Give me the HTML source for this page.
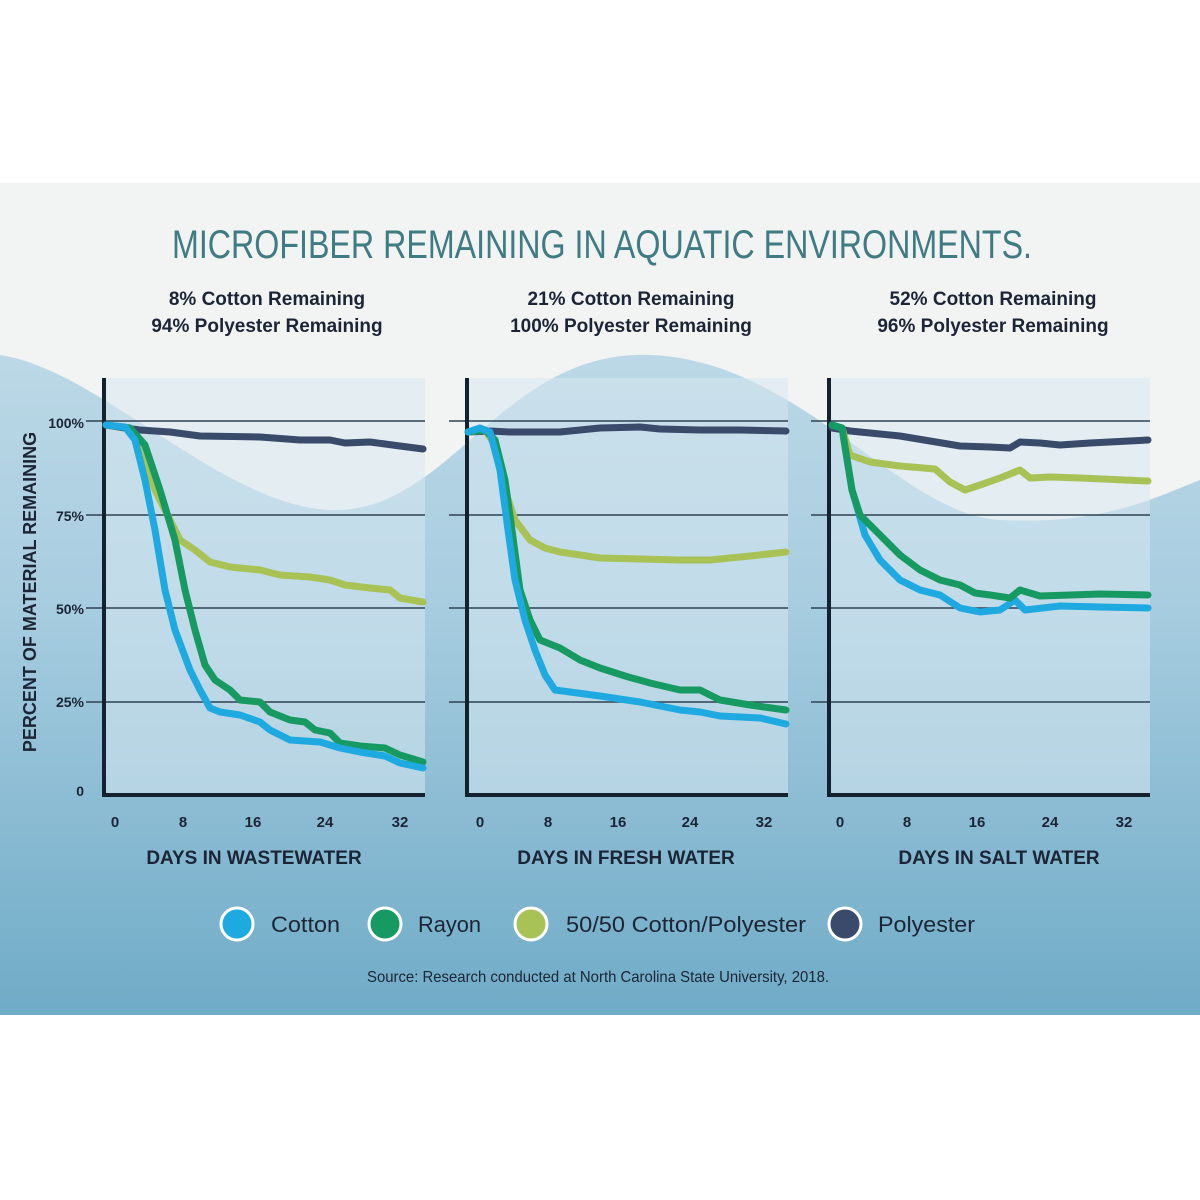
<!DOCTYPE html>
<html><head><meta charset="utf-8"><style>
html,body{margin:0;padding:0;background:#fff;width:1200px;height:1200px;overflow:hidden}
svg{display:block}
text{font-family:"Liberation Sans",sans-serif;fill:#1b2535}
</style></head><body>
<svg width="1200" height="1200" viewBox="0 0 1200 1200" xmlns="http://www.w3.org/2000/svg">
<defs>
<linearGradient id="bg" x1="0" y1="0" x2="0" y2="1">
<stop offset="0" stop-color="#c9e0ea"/><stop offset="0.5" stop-color="#a8cde0"/><stop offset="1" stop-color="#6fabc7"/>
</linearGradient>
</defs>
<rect x="0" y="183" width="1200" height="832" fill="url(#bg)"/>
<path d="M0,183 H1200 V480 C1150,500 1100,525 1000,520 C900,515 800,360 650,355 C500,350 450,515 330,510 C220,505 100,370 0,355 Z" fill="#f2f3f3"/>
<text x="602" y="258" text-anchor="middle" textLength="860" lengthAdjust="spacingAndGlyphs" style="font-size:40px;fill:#3f7b82;font-family:'Liberation Sans Narrow','Liberation Sans',sans-serif">MICROFIBER REMAINING IN AQUATIC ENVIRONMENTS.</text>
<g style="font-size:19px;font-weight:bold" text-anchor="middle">
<text x="267" y="305">8% Cotton Remaining</text><text x="267" y="332">94% Polyester Remaining</text>
<text x="631" y="305">21% Cotton Remaining</text><text x="631" y="332">100% Polyester Remaining</text>
<text x="993" y="305">52% Cotton Remaining</text><text x="993" y="332">96% Polyester Remaining</text>
</g>
<g fill="rgba(215,232,240,0.55)">
<rect x="106" y="378" width="319" height="417"/><rect x="469" y="378" width="319" height="417"/><rect x="831" y="378" width="319" height="417"/>
</g>
<g stroke="#2e4252" stroke-width="1.5">
<line x1="86" y1="421" x2="425" y2="421"/><line x1="86" y1="515" x2="425" y2="515"/><line x1="86" y1="608" x2="425" y2="608"/><line x1="86" y1="702" x2="425" y2="702"/>
<line x1="449" y1="421" x2="788" y2="421"/><line x1="449" y1="515" x2="788" y2="515"/><line x1="449" y1="608" x2="788" y2="608"/><line x1="449" y1="702" x2="788" y2="702"/>
<line x1="811" y1="421" x2="1150" y2="421"/><line x1="811" y1="515" x2="1150" y2="515"/><line x1="811" y1="608" x2="1150" y2="608"/><line x1="811" y1="702" x2="1150" y2="702"/>
</g>
<g stroke="#14212e" stroke-width="4" fill="none">
<polyline points="104,378 104,795 425,795"/><polyline points="467,378 467,795 788,795"/><polyline points="829,378 829,795 1150,795"/>
</g>
<g style="font-size:14px;font-weight:bold" text-anchor="end">
<text x="84" y="428">100%</text><text x="84" y="521">75%</text><text x="84" y="614">50%</text><text x="84" y="707">25%</text><text x="84" y="796">0</text>
</g>
<text transform="translate(36,592) rotate(-90)" text-anchor="middle" style="font-size:18px;font-weight:bold">PERCENT OF MATERIAL REMAINING</text>
<g style="font-size:15px;font-weight:bold" text-anchor="middle">
<text x="115" y="827">0</text><text x="183" y="827">8</text><text x="253" y="827">16</text><text x="325" y="827">24</text><text x="400" y="827">32</text>
<text x="480" y="827">0</text><text x="548" y="827">8</text><text x="618" y="827">16</text><text x="690" y="827">24</text><text x="764" y="827">32</text>
<text x="840" y="827">0</text><text x="907" y="827">8</text><text x="977" y="827">16</text><text x="1050" y="827">24</text><text x="1124" y="827">32</text>
</g>
<g style="font-size:19px;font-weight:bold" text-anchor="middle">
<text x="254" y="864">DAYS IN WASTEWATER</text><text x="626" y="864">DAYS IN FRESH WATER</text><text x="999" y="864">DAYS IN SALT WATER</text>
</g>
<g fill="none" stroke-width="7" stroke-linejoin="round" stroke-linecap="round">
<polyline stroke="#3a4a6b" points="106,425 125,428 140,430 170,432 200,436 260,437 300,440 330,440 345,443 370,442 385,444 400,446 423,449"/>
<polyline stroke="#a8c256" points="106,425 130,428 145,460 155,490 165,510 180,540 195,550 210,562 230,567 260,570 280,575 310,577 330,580 345,585 370,588 390,590 400,598 423,602"/>
<polyline stroke="#179a62" points="106,425 130,428 145,445 160,490 175,540 185,590 195,630 205,665 215,680 230,690 240,700 260,702 270,712 290,720 305,722 315,730 330,733 340,743 360,746 385,748 400,755 423,762"/>
<polyline stroke="#1ea9e1" points="106,425 125,427 135,440 145,480 155,530 165,590 175,630 190,670 200,690 210,708 220,712 240,715 260,722 270,730 290,740 320,742 340,748 360,752 385,756 400,763 423,768"/>
<polyline stroke="#3a4a6b" points="468,432 490,431 510,432 540,432 560,432 600,428 640,427 660,429 700,430 740,430 786,431"/>
<polyline stroke="#a8c256" points="468,432 485,430 495,445 505,490 515,520 530,540 545,548 560,552 600,558 640,559 680,560 710,560 750,556 786,552"/>
<polyline stroke="#179a62" points="468,432 485,430 495,440 505,480 512,530 520,590 530,620 540,640 560,648 580,660 600,668 625,676 650,683 680,690 700,690 720,700 750,705 786,710"/>
<polyline stroke="#1ea9e1" points="468,432 480,428 490,432 500,470 508,530 515,580 525,620 535,650 545,675 555,690 570,692 600,696 640,702 680,710 700,712 720,716 760,718 786,724"/>
<polyline stroke="#3a4a6b" points="832,428 850,431 880,434 900,436 930,441 960,446 990,447 1010,448 1020,442 1040,443 1060,445 1090,443 1148,440"/>
<polyline stroke="#a8c256" points="832,425 842,428 850,455 870,462 900,466 935,469 950,482 965,490 980,485 1000,478 1020,470 1030,478 1050,477 1080,478 1148,481"/>
<polyline stroke="#1ea9e1" points="832,425 842,428 852,490 865,535 880,560 900,580 920,590 940,595 960,608 980,612 1000,610 1015,600 1025,610 1060,606 1100,607 1148,608"/>
<polyline stroke="#179a62" points="832,425 842,428 852,490 860,515 880,535 900,555 920,570 940,580 960,585 975,593 990,595 1010,598 1020,590 1040,596 1070,595 1100,594 1148,595"/>
</g>
<g stroke="#fff" stroke-width="3">
<circle cx="237" cy="924" r="16" fill="#1ea9e1"/><circle cx="385" cy="924" r="16" fill="#179a62"/><circle cx="531" cy="924" r="16" fill="#a8c256"/><circle cx="845" cy="924" r="16" fill="#3a4a6b"/>
</g>
<g style="font-size:22px">
<text x="271" y="932" textLength="69" lengthAdjust="spacingAndGlyphs">Cotton</text>
<text x="418" y="932" textLength="63" lengthAdjust="spacingAndGlyphs">Rayon</text>
<text x="566" y="932" textLength="240" lengthAdjust="spacingAndGlyphs">50/50 Cotton/Polyester</text>
<text x="878" y="932" textLength="97" lengthAdjust="spacingAndGlyphs">Polyester</text>
</g>
<text x="598" y="982" text-anchor="middle" textLength="462" lengthAdjust="spacingAndGlyphs" style="font-size:16px">Source: Research conducted at North Carolina State University, 2018.</text>
</svg>
</body></html>
